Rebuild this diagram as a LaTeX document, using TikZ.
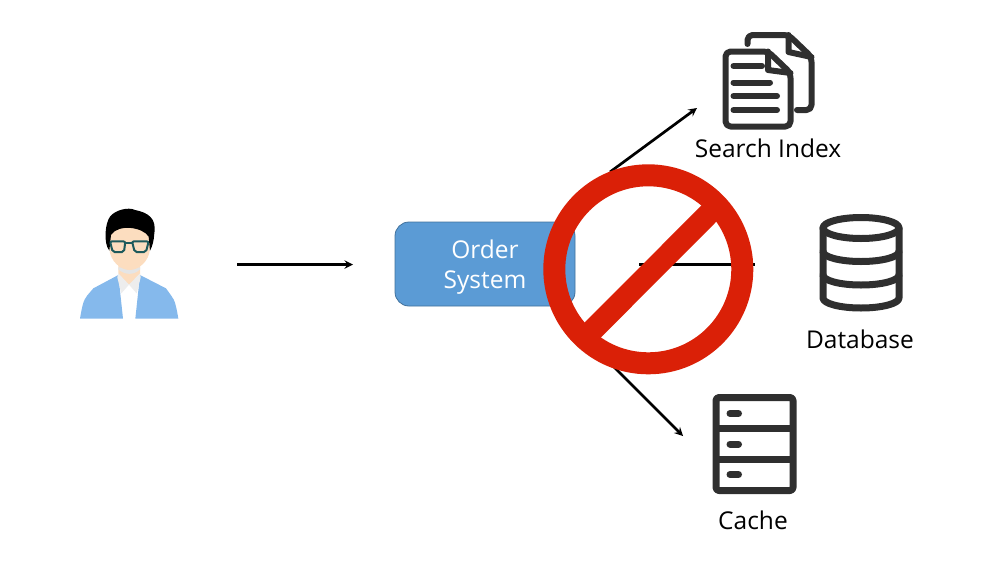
\documentclass[tikz,border=0pt]{standalone}
\usepackage{fontspec}
\setmainfont{Open Sans}
\usetikzlibrary{positioning}
\definecolor{boxblue}{HTML}{5B9BD5}
\definecolor{boxedge}{HTML}{41719C}
\definecolor{icondark}{HTML}{2F2F2F}
\definecolor{banred}{HTML}{DA2007}
\definecolor{jacket}{HTML}{85B9EC}
\definecolor{skin}{HTML}{FCDDBF}
\definecolor{frame}{HTML}{1E5A5C}
\begin{document}
\begin{tikzpicture}[
        x=1pt,
        y=-1pt,
        system/.style={
            rectangle,
            rounded corners=14pt,
            draw=boxedge,
            fill=boxblue,
            text=white,
            line width=0.8pt,
            minimum width=180pt,
            minimum height=84pt,
            align=center,
            inner sep=0pt,
            font=\fontsize{24.5}{30}\selectfont
        },
        caption/.style={
            inner sep=0pt,
            font=\fontsize{24.5}{28}\selectfont
        },
        flow/.style={
            ->,
            line width=2.7pt,
            >=stealth
        },
        icon/.style={
            draw=icondark,
            line width=7pt,
            line join=round,
            line cap=round
        },
        ban/.style={
            draw=banred,
            line width=22pt
        }
    ]

        \useasboundingbox (0,0) rectangle (988,568);

        \node[system] (order) at (485,264) {\rule{0pt}{25pt}Order\\System};
        \node[caption] (searchlabel) at (768,148) {Search Index};
        \node[caption] (dblabel) at (860,339) {Database};
        \node[caption] (cachelabel) at (753,520) {Cache};

        \coordinate (userout) at (237,264.5);
        \coordinate (orderin) at (353,264.5);
        \coordinate (searchfrom) at (610,172);
        \coordinate (searchto) at (697,108);
        \coordinate (dbfrom) at (639,264.5);
        \coordinate (dbto) at (755,264.5);
        \coordinate (cachefrom) at (614,367);
        \coordinate (cacheto) at (683,436);

        \draw[flow] (userout) -- (orderin);
        \draw[flow] (searchfrom) -- (searchto);
        \draw[flow,-] (dbfrom) -- (dbto);
        \draw[flow] (cachefrom) -- (cacheto);

        % user
        \begin{scope}[shift={(60,190)},scale=1/3]
            \fill[white] (175,255) -- (240,255) -- (226,386) -- (189,386) -- cycle;
            \fill[jacket] (60,386) .. controls (66,350) and (70,330) .. (82,316) -- (100,295) -- (175,255) -- (189,386) -- cycle;
            \fill[jacket] (355,386) .. controls (349,350) and (345,330) .. (333,316) -- (318,295) -- (240,255) -- (226,386) -- cycle;
            \fill[skin] (175,225) -- (240,225) -- (240,262) -- (207,284) -- (175,262) -- cycle;
            \fill[black!10] (175,238) .. controls (195,256) and (222,256) .. (240,238) -- (240,232) -- (175,232) -- cycle;
            \fill[black!7] (175,250) -- (207,284) -- (184,310) -- (172,262) -- cycle;
            \fill[black!7] (240,250) -- (207,284) -- (230,310) -- (242,262) -- cycle;
            \fill[skin] (148,110) -- (270,110) -- (270,175) .. controls (268,215) and (235,240) .. (209,240) .. controls (183,240) and (150,215) .. (148,175) -- cycle;
            \fill[black] (148,182) .. controls (130,160) and (135,100) .. (150,80) .. controls (165,60) and (205,50) .. (225,60) .. controls (265,68) and (290,85) .. (283,130) .. controls (282,150) and (277,170) .. (270,182) -- (266,140) .. controls (250,112) and (175,100) .. (153,135) -- cycle;
            \draw[frame,line width=2pt,rounded corners=2pt,fill=skin] (150,154) -- (196,154) -- (192,186) -- (158,186) -- cycle;
            \draw[frame,line width=2pt,rounded corners=2pt,fill=skin] (216,154) -- (266,154) -- (258,186) -- (224,186) -- cycle;
            \draw[frame,line width=2pt] (196,158) -- (216,158);
        \end{scope}

        % search index icon
        \draw[icon,line width=6pt,rounded corners=5pt] (747.5,44) -- (747.5,35) -- (788.5,35) -- (811.5,57) -- (811.5,110) -- (797,110);
        \draw[icon,line width=6pt] (788.5,35) -- (788.5,52) -- (811.5,57);
        \draw[icon,line width=6pt,rounded corners=5pt] (725.5,51.5) -- (768,51.5) -- (790.5,73) -- (790.5,126.5) -- (725.5,126.5) -- cycle;
        \draw[icon,line width=6pt] (768,51.5) -- (768,70) -- (790.5,73);
        \foreach \ypos/\xend in {66/762,82.5/770,96/777,110/777}
            \draw[icon,line width=6pt] (733.5,\ypos) -- (\xend,\ypos);

        % database icon
        \draw[icon] (861,228) ellipse [x radius=38, y radius=10.5];
        \draw[icon] (823,228) -- (823,298) arc [start angle=180, end angle=0, x radius=38, y radius=10] -- (899,228);
        \foreach \ypos in {251.5,275}
            \draw[icon] (823,\ypos) arc [start angle=180, end angle=0, x radius=38, y radius=10];

        % cache icon
        \draw[icon,rounded corners=3pt] (716,397.5) rectangle (793,490.5);
        \foreach \ypos in {428.5,459}
            \draw[icon,line cap=butt] (716,\ypos) -- (793,\ypos);
        \foreach \ypos in {413.5,444,474.5}
            \draw[icon] (730,\ypos) -- (738.5,\ypos);

        % forbidden sign
        \draw[ban] (648.3,269.3) circle [radius=94];
        \draw[ban] (584.5,338.3) -- (717.1,205.3);

    \end{tikzpicture}
\end{document}
